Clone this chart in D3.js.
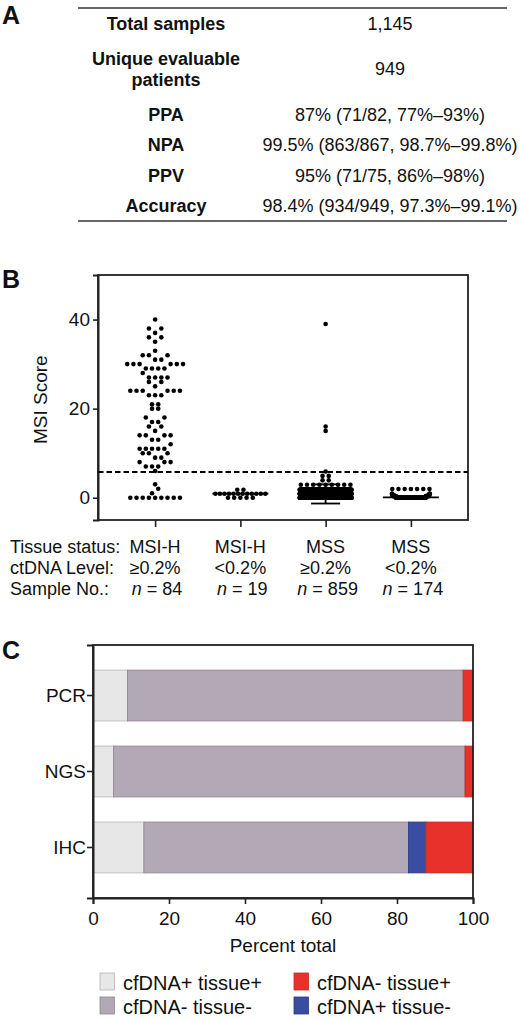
<!DOCTYPE html>
<html>
<head>
<meta charset="utf-8">
<title>MSI concordance</title>
<script src="https://d3js.org/d3.v7.min.js"></script>
<style>
    body {
        margin: 0;
        background: #fff;
    }
    text {
        font-family: "Liberation Sans", Arial, Helvetica, sans-serif;
        fill: #111;
    }
</style>
</head>
<body>
<script>
    // ---- panel A: table
    const tableLabels = [["Total samples"], ["Unique evaluable", "patients"], ["PPA"], ["NPA"], ["PPV"], ["Accuracy"]];
    const tableValues = ["1,145", "949", "87% (71/82, 77%\u201393%)", "99.5% (863/867, 98.7%\u201399.8%)",
        "95% (71/75, 86%\u201398%)", "98.4% (934/949, 97.3%\u201399.1%)"];

    // ---- panel B: MSI score per group
    const tissueStatus = ["MSI-H", "MSI-H", "MSS", "MSS"];
    const ctdnaLevel = ["\u22650.2%", "<0.2%", "\u22650.2%", "<0.2%"];
    const sampleN = [84, 19, 859, 174];
    const msiHighCtdnaHigh = [40, 38, 38, 37, 36, 36, 35, 33, 32, 32, 32, 31, 31,
        30, 30, 30, 30, 30, 30, 29, 29, 29, 29, 28, 27, 27, 27, 27, 26, 26, 25,
        24, 24, 24, 24, 24, 24, 23, 23, 23, 21, 21, 20, 20, 18, 18, 17, 17, 16, 16, 15,
        14, 14, 14, 14, 13, 13, 12, 11, 11, 11, 11, 11, 10, 10, 10, 9, 9, 8, 8, 8,
        7, 7, 7, 6, 3, 2, 1, 0, 0, 0, 0, 0, 0, 0, 0, 0];
    const msiHighCtdnaLowValues = [1.8, 0.9, 0];
    const msiHighCtdnaLowCounts = [2, 12, 5];
    const mssCtdnaHighValues = [39, 16, 15, 5.9, 4.9, 3.9, 2.9, 1.8, 0.9, 0];
    const mssCtdnaHighCounts = [1, 1, 1, 1, 2, 2, 9, 200, 300, 342];
    const mssCtdnaLowValues = [1.95, 0.9, 0.4, 0];
    const mssCtdnaLowCounts = [7, 6, 30, 131];
    const groupMean = [null, 0.9, 0.85, 0.1];
    const groupSD = [null, 0, 2.15, 0];
    const msiCutoff = 5.8;
    const yTicksB = [0, 20, 40];

    // ---- panel C: concordance by method
    const methods = ["PCR", "NGS", "IHC"];
    const bothPositive = [9.1, 5.4, 13.4];
    const bothNegative = [88.3, 92.5, 69.6];
    const cfdnaOnlyPositive = [0, 0, 4.6];
    const tissueOnlyPositive = [2.6, 2.1, 12.4];
    const xTicksC = [0, 20, 40, 60, 80, 100];

    const width = 520, height = 1019;
    const ink = "#111";

    const svg = d3.select("body")
        .append("svg")
        .attr("width", width)
        .attr("height", height);

    function panelLetter(letter, y) {
        svg.append("text")
            .attr("x", 2)
            .attr("y", y)
            .attr("font-size", 25)
            .attr("font-weight", "bold")
            .text(letter);
    }

    // ================= A =================
    panelLetter("A", 24);
    const tableTop = 8, tableBottom = 221;
    const rowUnits = tableLabels.map(function(d) { return d.length; });
    const unit = (tableBottom - tableTop) / d3.sum(rowUnits);
    let acc = tableTop;
    const rowCenter = rowUnits.map(function(u) {
        const c = acc + u * unit / 2;
        acc += u * unit;
        return c;
    });

    svg.append("g")
        .selectAll("line")
        .data([tableTop, tableBottom])
        .join("line")
        .attr("x1", 78).attr("x2", 507)
        .attr("y1", function(d) { return d; })
        .attr("y2", function(d) { return d; })
        .attr("stroke", "#333")
        .attr("stroke-width", 1.3);

    const rows = svg.append("g").selectAll("g")
        .data(tableLabels)
        .join("g");

    rows.each(function(lines, i) {
        const g = d3.select(this);
        const lineGap = 21;
        lines.forEach(function(t, j) {
            g.append("text")
                .attr("x", 166)
                .attr("y", rowCenter[i] + 6.5 + (j - (lines.length - 1) / 2) * lineGap)
                .attr("text-anchor", "middle")
                .attr("font-size", 18)
                .attr("font-weight", "bold")
                .text(t);
        });
        g.append("text")
            .attr("x", 390)
            .attr("y", rowCenter[i] + 6.5)
            .attr("text-anchor", "middle")
            .attr("font-size", 18)
            .text(tableValues[i]);
    });

    // ================= B =================
    panelLetter("B", 288);
    const bLeft = 98, bRight = 468, bTop = 275, bBottom = 520;

    const bx = d3.scalePoint()
        .domain(d3.range(tissueStatus.length))
        .range([bLeft, bRight])
        .padding(0.67);
    const by = d3.scaleLinear()
        .domain([-5, 50])
        .range([bBottom, bTop]);

    function expand(values, counts) {
        return values.flatMap(function(v, i) { return Array(counts[i]).fill(v); });
    }

    const groupValues = [
        msiHighCtdnaHigh,
        expand(msiHighCtdnaLowValues, msiHighCtdnaLowCounts),
        expand(mssCtdnaHighValues, mssCtdnaHighCounts),
        expand(mssCtdnaLowValues, mssCtdnaLowCounts)
    ];
    const binWidth = [2, 1, 1, 2];
    const maxHalf = [28, 25, 26, 19];
    const dotStep = 6.2, dotR = 2.3;

    // Prism-like scatter: points binned by value, spread centre-out along rows
    function swarm(vals, binW, half) {
        const sorted = vals.slice().sort(d3.ascending);
        const bins = d3.group(sorted, function(v) { return Math.floor((v + binW / 2) / binW); });
        const out = [];
        bins.forEach(function(list) {
            const n = list.length;
            const s = n > 1 ? Math.min(dotStep, 2 * half / (n - 1)) : 0;
            list.forEach(function(v, i) {
                let k;
                if (n % 2) k = i === 0 ? 0 : Math.ceil(i / 2) * (i % 2 ? 1 : -1);
                else k = (Math.floor(i / 2) + 0.5) * (i % 2 ? 1 : -1);
                out.push({ v: v, dx: k * s });
            });
        });
        return out;
    }

    const points = groupValues.flatMap(function(vals, gi) {
        return swarm(vals, binWidth[gi], maxHalf[gi]).map(function(p) {
            return { x: bx(gi) + p.dx, y: by(p.v) };
        });
    });

    // frame
    svg.append("rect")
        .attr("x", bLeft).attr("y", bTop)
        .attr("width", bRight - bLeft).attr("height", bBottom - bTop)
        .attr("fill", "none")
        .attr("stroke", "#222")
        .attr("stroke-width", 1.8);

    svg.append("g")
        .attr("transform", "translate(" + bLeft + ",0)")
        .call(d3.axisLeft(by).tickValues(yTicksB).tickSize(5).tickPadding(3))
        .call(function(g) { g.select(".domain").attr("stroke", "#222").attr("stroke-width", 2); })
        .call(function(g) { g.selectAll(".tick line").attr("stroke", "#222").attr("stroke-width", 1.6); })
        .call(function(g) { g.selectAll(".tick text").attr("font-size", 19).attr("fill", ink)
            .attr("font-family", "Liberation Sans, Arial, sans-serif"); });

    svg.append("g")
        .attr("transform", "translate(0," + bBottom + ")")
        .call(d3.axisBottom(bx).tickSize(7).tickFormat(""))
        .call(function(g) { g.select(".domain").remove(); })
        .call(function(g) { g.selectAll(".tick line").attr("stroke", "#222").attr("stroke-width", 1.6); });

    svg.append("text")
        .attr("transform", "translate(47," + by(22) + ") rotate(-90)")
        .attr("text-anchor", "middle")
        .attr("font-size", 19)
        .text("MSI Score");

    svg.append("g")
        .selectAll("circle")
        .data(points)
        .join("circle")
        .attr("cx", function(d) { return d.x; })
        .attr("cy", function(d) { return d.y; })
        .attr("r", dotR)
        .attr("fill", "#000");

    // mean and SD bars
    const summary = svg.append("g").attr("stroke", "#000").attr("stroke-width", 1.8);
    groupMean.forEach(function(m, gi) {
        if (m === null) return;
        const cx = bx(gi);
        summary.append("line")
            .attr("x1", cx - 28).attr("x2", cx + 28)
            .attr("y1", by(m)).attr("y2", by(m));
        const sd = groupSD[gi];
        if (sd > 0) {
            summary.append("line")
                .attr("x1", cx).attr("x2", cx)
                .attr("y1", by(m - sd)).attr("y2", by(m + sd));
            [m - sd, m + sd].forEach(function(v) {
                summary.append("line")
                    .attr("x1", cx - 14.5).attr("x2", cx + 14.5)
                    .attr("y1", by(v)).attr("y2", by(v));
            });
        }
    });

    svg.append("line")
        .attr("x1", bLeft).attr("x2", bRight)
        .attr("y1", by(msiCutoff)).attr("y2", by(msiCutoff))
        .attr("stroke", "#000")
        .attr("stroke-width", 2)
        .attr("stroke-dasharray", "5.5,3");

    // group annotation rows
    const rowTitles = ["Tissue status:", "ctDNA Level:", "Sample No.:"];
    const rowBaselines = [553, 574, 595];
    rowTitles.forEach(function(t, i) {
        svg.append("text")
            .attr("x", 10)
            .attr("y", rowBaselines[i])
            .attr("font-size", 18)
            .text(t);
    });
    const colText = svg.append("g").attr("text-anchor", "middle").attr("font-size", 18);
    tissueStatus.forEach(function(t, gi) {
        colText.append("text").attr("x", bx(gi)).attr("y", rowBaselines[0]).text(t);
        colText.append("text").attr("x", bx(gi)).attr("y", rowBaselines[1]).text(ctdnaLevel[gi]);
        const nt = colText.append("text").attr("x", bx(gi) + 2).attr("y", rowBaselines[2]);
        nt.append("tspan").attr("font-style", "italic").text("n");
        nt.append("tspan").text(" = " + sampleN[gi]);
    });

    // ================= C =================
    panelLetter("C", 659);
    const cLeft = 93, cRight = 473, cTop = 645, cBottom = 898;

    const cx = d3.scaleLinear().domain([0, 100]).range([cLeft, cRight]);
    const cy = d3.scaleBand().domain(methods).range([cTop, cBottom]).padding(0.33);

    const keys = ["bothPositive", "bothNegative", "cfdnaOnlyPositive", "tissueOnlyPositive"];
    const keyLabels = ["cfDNA+ tissue+", "cfDNA- tissue-", "cfDNA+ tissue-", "cfDNA- tissue+"];
    const colors = ["#e7e7e7", "#b3a8b5", "#3b4da3", "#e8312a"];
    const edgeColors = ["#b5b5b5", "#8f8590", "#2c3a80", "#c22a22"];

    const table = methods.map(function(m, i) {
        return {
            method: m,
            bothPositive: bothPositive[i],
            bothNegative: bothNegative[i],
            cfdnaOnlyPositive: cfdnaOnlyPositive[i],
            tissueOnlyPositive: tissueOnlyPositive[i]
        };
    });
    const stacked = d3.stack().keys(keys)(table);

    svg.append("g")
        .selectAll("g")
        .data(stacked)
        .join("g")
        .attr("fill", function(d, i) { return colors[i]; })
        .attr("stroke", function(d, i) { return edgeColors[i]; })
        .attr("stroke-width", 0.8)
        .selectAll("rect")
        .data(function(d) { return d.filter(function(s) { return s[1] - s[0] > 0; }); })
        .join("rect")
        .attr("x", function(d) { return cx(d[0]); })
        .attr("width", function(d) { return cx(d[1]) - cx(d[0]); })
        .attr("y", function(d) { return cy(d.data.method); })
        .attr("height", cy.bandwidth());

    svg.append("rect")
        .attr("x", cLeft).attr("y", cTop)
        .attr("width", cRight - cLeft).attr("height", cBottom - cTop)
        .attr("fill", "none")
        .attr("stroke", "#222")
        .attr("stroke-width", 1.8);

    svg.append("g")
        .attr("transform", "translate(" + cLeft + ",0)")
        .call(d3.axisLeft(cy).tickSize(6).tickPadding(1))
        .call(function(g) { g.select(".domain").attr("stroke", "#222").attr("stroke-width", 2); })
        .call(function(g) { g.selectAll(".tick line").attr("stroke", "#222").attr("stroke-width", 1.6); })
        .call(function(g) { g.selectAll(".tick text").attr("font-size", 19).attr("fill", ink)
            .attr("font-family", "Liberation Sans, Arial, sans-serif"); });

    svg.append("g")
        .attr("transform", "translate(0," + cBottom + ")")
        .call(d3.axisBottom(cx).tickValues(xTicksC).tickSize(6).tickPadding(8))
        .call(function(g) { g.select(".domain").attr("stroke", "#222").attr("stroke-width", 2); })
        .call(function(g) { g.selectAll(".tick line").attr("stroke", "#222").attr("stroke-width", 1.6); })
        .call(function(g) { g.selectAll(".tick text").attr("font-size", 19).attr("fill", ink)
            .attr("font-family", "Liberation Sans, Arial, sans-serif"); });

    svg.append("text")
        .attr("x", (cLeft + cRight) / 2)
        .attr("y", 952)
        .attr("text-anchor", "middle")
        .attr("font-size", 19)
        .text("Percent total");

    // legend: two columns
    const legendOrder = [0, 1, 3, 2];
    const legend = svg.append("g")
        .selectAll("g")
        .data(legendOrder)
        .join("g")
        .attr("transform", function(d, i) {
            const col = Math.floor(i / 2), row = i % 2;
            return "translate(" + (100 + col * 194) + "," + (973 + row * 24) + ")";
        });
    legend.append("rect")
        .attr("width", 14.5)
        .attr("height", 17)
        .attr("fill", function(d) { return colors[d]; })
        .attr("stroke", function(d) { return edgeColors[d]; })
        .attr("stroke-width", 0.8);
    legend.append("text")
        .attr("x", 23)
        .attr("y", 17)
        .attr("font-size", 20)
        .text(function(d) { return keyLabels[d]; });
</script>
</body>
</html>
